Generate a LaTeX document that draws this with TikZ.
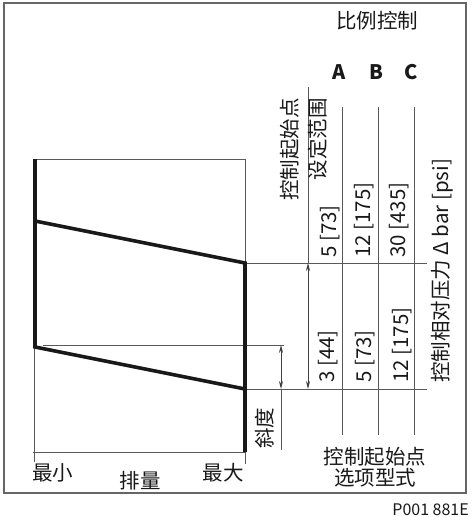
\documentclass[tikz,border=0pt]{standalone}
\usepackage{fontspec}
\setmainfont{Noto Sans CJK SC}
\usetikzlibrary{arrows.meta}
\tikzset{
  thinline/.style={draw=black!65, line width=0.9pt},
  thickline/.style={draw=black!90, line width=3.6pt, line join=miter, line cap=butt},
  frameline/.style={draw=black!60, line width=1.6pt},
  dim/.style={draw=black!75, line width=0.8pt, {Stealth[length=8pt,width=4pt]}-{Stealth[length=8pt,width=4pt]}},
  lbl/.style={inner sep=0pt, text=black!90, font=\fontsize{20.5}{28}\selectfont},
  vlbl/.style={lbl, rotate=90},
  hdr/.style={inner sep=0pt, text=black!90, font=\fontsize{20}{24}\selectfont\bfseries},
}
\begin{document}
\begin{tikzpicture}[x=1pt,y=-1pt]
\useasboundingbox (0,0) rectangle (474,517);
\fill[white] (0,0) rectangle (474,517);
% frame
\draw[frameline] (4,3) rectangle (466,493);
% key points
\coordinate (TL) at (33,159);
\coordinate (TR) at (245,159);
\coordinate (BL) at (33,452);
\coordinate (BR) at (245,452);
\coordinate (L0) at (35,159);
\coordinate (L1) at (35,221);
\coordinate (L2) at (35,347);
\coordinate (R1) at (245,263);
\coordinate (R2) at (245,389);
\coordinate (TickL) at (34,462);
\coordinate (TickR) at (245,464);
\coordinate (H1e) at (427,263);
\coordinate (H2e) at (427,389);
\coordinate (H3s) at (43,345);
\coordinate (H3e) at (284,345);
\coordinate (D1t) at (308,87);
\coordinate (D1a) at (308,263);
\coordinate (D1b) at (308,389);
\coordinate (D2a) at (281,345);
\coordinate (D2b) at (281,389);
\coordinate (D2e) at (281,450);
% thin chart box
\draw[thinline] (TL) -- (TR) -- (R1);
\draw[thinline] (BL) -- (BR) -- (TickR);
\draw[thinline] (L2) ++(-1,0) -- (TickL);
% reference horizontals
\draw[thinline] (R1) -- (H1e);
\draw[thinline] (R2) -- (H2e);
\draw[thinline] (H3s) -- (H3e);
% columns
\foreach \cx/\nm in {342/ca,378/cb,414/cc}{
  \coordinate (\nm t) at (\cx,107);
  \coordinate (\nm b) at (\cx,435);
  \draw[thinline] (\nm t) -- (\nm b);
}
% dimension lines
\draw[thinline] (D1t) -- (D1a);
\draw[dim] (D1a) -- (D1b);
\draw[dim] (D2a) -- (D2b);
\draw[thinline] (D2b) -- (D2e);
% thick curves
\draw[thickline] (L0) -- (L2) -- (R2);
\draw[thickline] (L1) -- (R1) -- (BR);
% texts
\node[lbl] (title) at (377,21) {比例控制};
\node[hdr] (hA) at (339,72) {A};
\node[hdr] (hB) at (376,72) {B};
\node[hdr] (hC) at (411,72) {C};
\node[vlbl, anchor=east, align=right] (setr) at (304,98) {控制起始点\\设定范围};
\node[vlbl, anchor=west] (a1) at (330,258) {5 [73]};
\node[vlbl, anchor=west] (b1) at (364,258) {12 [175]};
\node[vlbl, anchor=west] (c1) at (399,258) {30 [435]};
\node[vlbl, anchor=west] (a2) at (328,383) {3 [44]};
\node[vlbl, anchor=west] (b2) at (365,383) {5 [73]};
\node[vlbl, anchor=west] (c2) at (402,383) {12 [175]};
\node[vlbl, anchor=west] (press) at (442,383) {控制相对压力 Δ bar [psi]};
\node[vlbl] (slope) at (265,428) {斜度};
\node[lbl, anchor=west] (min) at (32,473) {最小};
\node[lbl] (disp) at (140,481) {排量};
\node[lbl, anchor=east] (max) at (244,473) {最大};
\node[lbl] (opt1) at (375,457) {控制起始点};
\node[lbl] (opt2) at (375,478) {选项型式};
\node[inner sep=0pt, anchor=east, text=black!90, font=\fontsize{16}{18}\selectfont] (code) at (469,510) {P001 881E};
\end{tikzpicture}
\end{document}
